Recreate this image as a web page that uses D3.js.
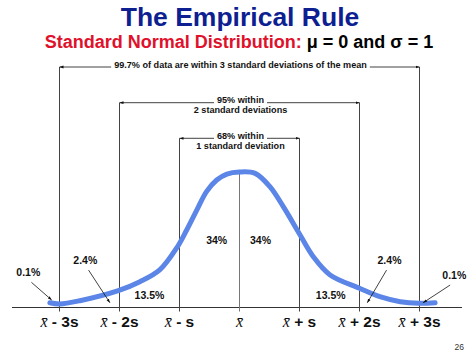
<!DOCTYPE html>
<html>
<head>
<meta charset="utf-8">
<script src="https://cdn.jsdelivr.net/npm/d3@7"></script>
<style>
  body { margin: 0; background: #fff; }
  svg { display: block; font-family: "Liberation Sans", Arial, sans-serif; }
</style>
</head>
<body>
<div id="chart"></div>
<script>
// curve: z = sd units from the mean, h = height relative to the peak
const curveZ = [-3.16, -3.0, -2.66, -2.02, -1.66, -1.33, -1.04, -0.88, -0.71, -0.55, -0.38, -0.21, 0,
  0.26, 0.51, 0.73, 1.01, 1.23, 1.51, 2.0, 2.34, 2.68, 2.99, 3.26]
const curveH = [0.035, 0.026, 0.05, 0.124, 0.19, 0.277, 0.444, 0.572, 0.72, 0.855, 0.941, 0.985, 1.0,
  0.99, 0.89, 0.744, 0.535, 0.375, 0.24, 0.142, 0.08, 0.043, 0.031, 0.035]

const tickValues = [-3, -2, -1, 0, 1, 2, 3]
const tickLabels = ["- 3s", "- 2s", "- s", "", "+ s", "+ 2s", "+ 3s"]

// brackets: spread in sd and their caption lines
const bracketSd = [3, 2, 1]
const bracketText = [
  ["99.7% of data are within 3 standard deviations of the mean"],
  ["95% within", "2 standard deviations"],
  ["68% within", "1 standard deviation"]
]

// area labels (text, z position, h position)
const areaText = ["34%", "34%", "13.5%", "13.5%"]
const areaZ = [-0.38, 0.35, -1.5, 1.52]
const areaH = [0.47, 0.47, 0.06, 0.06]

// pointer labels: text, label z/h, arrow tip z/h
const pointText = ["0.1%", "2.4%", "2.4%", "0.1%"]
const pointZ = [-3.52, -2.57, 2.5, 3.58]
const pointH = [0.23, 0.32, 0.32, 0.21]
const tipZ = [-3.13, -2.16, 2.13, 3.06]
const tipH = [0.055, 0.035, 0.035, 0.035]

const width = 474, height = 355
const mean = 239.5, sdPx = 60
const x = d3.scaleLinear().domain([-3, 3]).range([mean - 3 * sdPx, mean + 3 * sdPx])
const y = d3.scaleLinear().domain([0, 1]).range([307.5, 172])
const bracketY = [67, 102.7, 138.3]

const svg = d3.select("#chart").append("svg")
  .attr("width", width)
  .attr("height", height)

const defs = svg.append("defs")
defs.append("marker")
  .attr("id", "head")
  .attr("viewBox", "0 0 10 10")
  .attr("refX", 10).attr("refY", 5)
  .attr("markerWidth", 5).attr("markerHeight", 5)
  .attr("orient", "auto-start-reverse")
  .append("path").attr("d", "M0,1.5L10,5L0,8.5z").attr("fill", "#111")

// titles
svg.append("text")
  .attr("x", 240).attr("y", 25.5)
  .attr("text-anchor", "middle")
  .attr("font-size", 26.5).attr("font-weight", "bold")
  .attr("fill", "#0d1f91")
  .text("The Empirical Rule")

const sub = svg.append("text")
  .attr("x", 239).attr("y", 48)
  .attr("text-anchor", "middle")
  .attr("font-size", 18).attr("font-weight", "bold")
sub.append("tspan").attr("fill", "#e0112b").text("Standard Normal Distribution: ")
sub.append("tspan").attr("fill", "#000").text("\u03bc = 0 and \u03c3 = 1")

// axis baseline
svg.append("line")
  .attr("x1", 12).attr("x2", 462)
  .attr("y1", y(0)).attr("y2", y(0))
  .attr("stroke", "#333").attr("stroke-width", 1)

// vertical guide lines
tickValues.forEach(v => {
  const s = Math.abs(v)
  const top = v === 0 ? y(1) : bracketY[bracketSd.indexOf(s)]
  svg.append("line")
    .attr("x1", x(v)).attr("x2", x(v))
    .attr("y1", top).attr("y2", y(0) + 4)
    .attr("stroke", v === 0 ? "#777" : "#444").attr("stroke-width", 1)
})

// brackets with captions
bracketSd.forEach((s, i) => {
  const yy = bracketY[i]
  const lines = bracketText[i]
  const g = svg.append("g")
  const t = g.append("text")
    .attr("text-anchor", "middle")
    .attr("font-size", 9.1).attr("font-weight", "bold")
    .attr("fill", "#111")
  lines.forEach((l, j) => {
    t.append("tspan").attr("x", x(0) + 1).attr("y", yy + 0.5 + j * 10).text(l)
  })
  const firstW = t.select("tspan").node().getComputedTextLength()
  const gap = 3
  g.append("line")
    .attr("x1", x(0) + 1 - firstW / 2 - gap).attr("x2", x(-s))
    .attr("y1", yy).attr("y2", yy)
    .attr("stroke", "#111").attr("stroke-width", 0.8)
    .attr("marker-end", "url(#head)")
  g.append("line")
    .attr("x1", x(0) + 1 + firstW / 2 + gap).attr("x2", x(s))
    .attr("y1", yy).attr("y2", yy)
    .attr("stroke", "#111").attr("stroke-width", 0.8)
    .attr("marker-end", "url(#head)")
})

// bell curve
const line = d3.line()
  .x((d, i) => x(curveZ[i]))
  .y((d, i) => y(curveH[i]))
  .curve(d3.curveCatmullRom)
svg.append("path")
  .datum(curveZ)
  .attr("d", line)
  .attr("fill", "none")
  .attr("stroke", "#5b85e6")
  .attr("stroke-width", 5)
  .attr("stroke-linecap", "round")
  .attr("stroke-linejoin", "round")

// area labels
areaText.forEach((t, i) => {
  svg.append("text")
    .attr("x", x(areaZ[i])).attr("y", y(areaH[i]))
    .attr("text-anchor", "middle")
    .attr("font-size", 10.5).attr("font-weight", "bold")
    .attr("fill", "#111")
    .text(t)
})

// pointer labels with arrows
pointText.forEach((t, i) => {
  svg.append("text")
    .attr("x", x(pointZ[i])).attr("y", y(pointH[i]))
    .attr("text-anchor", "middle")
    .attr("font-size", 10.5).attr("font-weight", "bold")
    .attr("fill", "#111")
    .text(t)
  svg.append("line")
    .attr("x1", x(pointZ[i]) + (tipZ[i] - pointZ[i]) * 8)
    .attr("y1", y(pointH[i]) + 6)
    .attr("x2", x(tipZ[i])).attr("y2", y(tipH[i]))
    .attr("stroke", "#111").attr("stroke-width", 0.8)
    .attr("marker-end", "url(#head)")
})

// tick labels: x-bar plus offset text
tickValues.forEach((v, i) => {
  const t = svg.append("text")
    .attr("x", x(v)).attr("y", 327)
    .attr("text-anchor", "middle")
    .attr("font-size", 15.5).attr("font-weight", "bold")
    .attr("fill", "#111")
  t.append("tspan")
    .attr("font-family", "'Liberation Serif', 'Times New Roman', serif")
    .attr("font-style", "italic").attr("font-weight", "normal")
    .attr("font-size", 16)
    .text("x\u0304")
  if (tickLabels[i]) t.append("tspan").text(" " + tickLabels[i])
})

// slide number
svg.append("text")
  .attr("x", 464).attr("y", 350)
  .attr("text-anchor", "end")
  .attr("font-size", 8.5)
  .attr("fill", "#333")
  .text("26")
</script>
</body>
</html>
